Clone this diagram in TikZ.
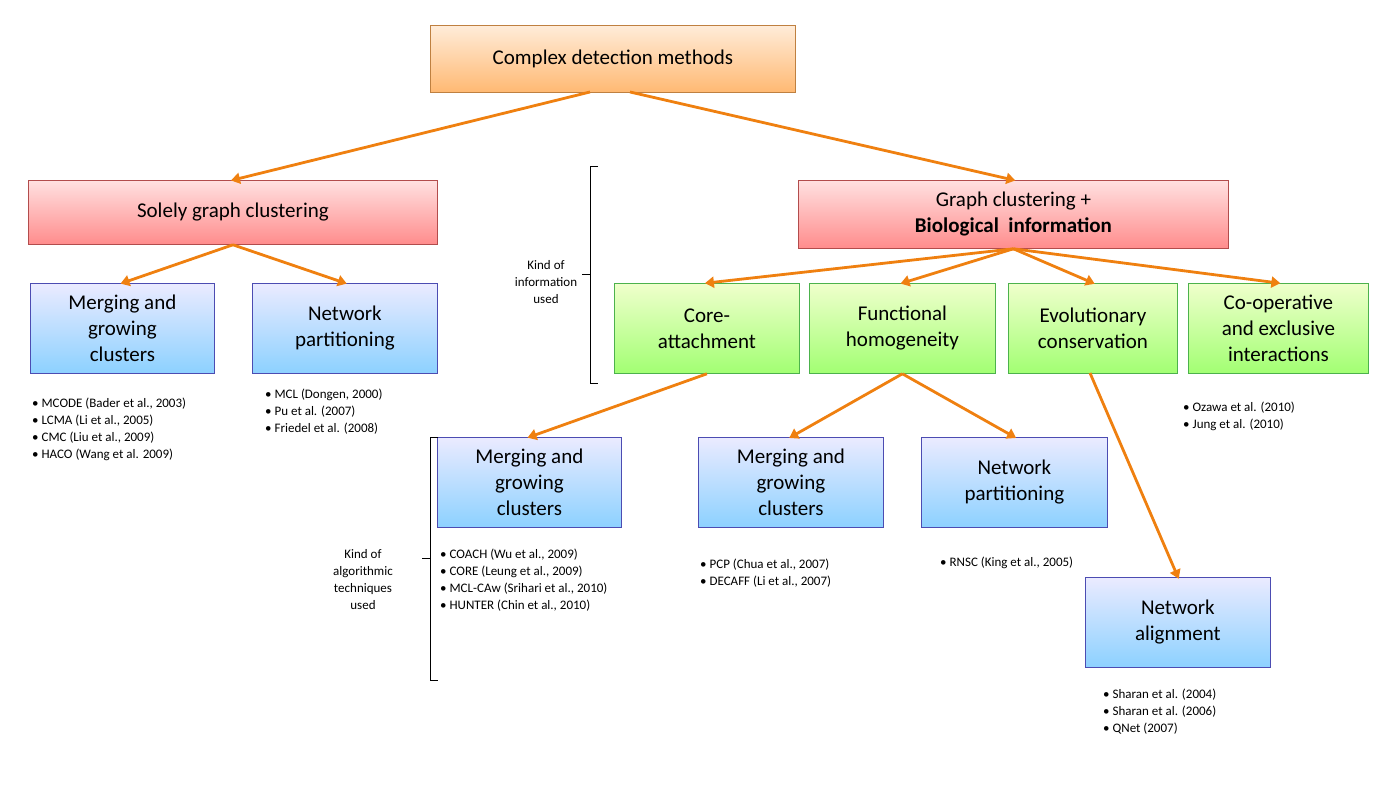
\documentclass[tikz,border=0pt]{standalone}
\usepackage{fontspec}
\setmainfont{Carlito}
\usetikzlibrary{arrows.meta}
\begin{document}
\begin{tikzpicture}[x=1pt,y=-1pt,
 box/.style={draw=#1!60!black,line width=0.8pt,minimum width=184pt,minimum height=90pt,align=center,font=\fontsize{21}{26}\selectfont,anchor=north west,inner sep=2pt},
 blue/.style={box=blue,top color=blue!8,bottom color=blue!40!cyan!45,draw=blue!40!gray},
 green/.style={box=green,top color=green!8!lime!20,bottom color=lime!45!green!55,draw=green!40!gray},
 red/.style={box=red,top color=red!12,bottom color=red!45,draw=red!40!gray,minimum width=409pt,minimum height=64pt},
 arr/.style={draw=orange!75!brown,line width=2.8pt,-{Triangle[width=11pt,length=9pt]},shorten >=-2pt},
 lst/.style={align=left,anchor=north west,font=\fontsize{13}{17}\selectfont,inner sep=0pt}]
\useasboundingbox (0,0) rectangle (1376,802);
\node[box=orange,top color=orange!15,bottom color=orange!55,draw=orange!50!gray,minimum width=365pt,minimum height=67pt] (top) at (430,25) {Complex detection methods};
\node[red] (sole) at (28,180) {Solely graph clustering};
\node[red,minimum width=430pt,minimum height=68pt] (bio) at (798,180) {Graph clustering +\\\textbf{Biological\ \ information}};
\node[blue,minimum width=184pt] (mg1) at (30,283) {Merging and\\growing\\clusters};
\node[blue,minimum width=185pt] (np1) at (252,283) {Network\\partitioning};
\node[green,minimum width=185pt] (core) at (614,283) {Core-\\attachment};
\node[green,minimum width=186pt] (func) at (809,283) {Functional\\homogeneity};
\node[green,minimum width=169pt] (evo) at (1008,283) {Evolutionary\\conservation};
\node[green,minimum width=180pt] (coop) at (1188,283) {Co-operative\\and exclusive\\interactions};
\node[blue] (mg2) at (437,437) {Merging and\\growing\\clusters};
\node[blue,minimum width=185pt] (mg3) at (698,437) {Merging and\\growing\\clusters};
\node[blue,minimum width=186pt] (np2) at (921,437) {Network\\partitioning};
\node[blue,minimum width=185pt] (na) at (1085,577) {Network\\alignment};
\coordinate (t1) at (590,92); \coordinate (t2) at (630,92);
\draw[arr] (t1) -- (sole.north);
\draw[arr] (t2) -- (bio.north);
\draw[arr] (sole.south) -- (mg1.north);
\draw[arr] (sole.south) -- (np1.north);
\draw[arr] (bio.south) -- (core.north);
\draw[arr] (bio.south) -- (func.north);
\draw[arr] (bio.south) -- (evo.north);
\draw[arr] (bio.south) -- (coop.north);
\draw[arr] (core.south) -- (mg2.north);
\draw[arr] (func.south) -- (mg3.north);
\draw[arr] (func.south) -- (np2.north);
\coordinate (e1) at (1090,373);
\draw[arr] (e1) -- (na.north);
\node[lst] (l1) at (32,398) {• MCODE (Bader et al., 2003)\\• LCMA (Li et al., 2005)\\• CMC (Liu et al., 2009)\\• HACO (Wang et al. 2009)};
\node[lst] (l2) at (265,389) {• MCL (Dongen, 2000)\\• Pu et al. (2007)\\• Friedel et al. (2008)};
\node[lst] (l3) at (1183,402) {• Ozawa et al. (2010)\\• Jung et al. (2010)};
\node[lst] (l4) at (440,549) {• COACH (Wu et al., 2009)\\• CORE (Leung et al., 2009)\\• MCL-CAw (Srihari et al., 2010)\\• HUNTER (Chin et al., 2010)};
\node[lst] (l5) at (700,559) {• PCP (Chua et al., 2007)\\• DECAFF (Li et al., 2007)};
\node[lst] (l6) at (940,557) {• RNSC (King et al., 2005)};
\node[lst] (l7) at (1103,689) {• Sharan et al. (2004)\\• Sharan et al. (2006)\\• QNet (2007)};
\draw[line width=1pt] (598,167) -- (590,167) -- (590,383) -- (598,383);
\draw[line width=1pt] (582,275) -- (590,275);
\node[align=center,font=\fontsize{13}{17}\selectfont] (k1) at (546,282) {Kind of\\information\\used};
\draw[line width=1pt] (438,437) -- (430,437) -- (430,680) -- (438,680);
\draw[line width=1pt] (422,558) -- (430,558);
\node[align=center,font=\fontsize{13}{17}\selectfont] (k2) at (363,580) {Kind of\\algorithmic\\techniques\\used};
\end{tikzpicture}
\end{document}
